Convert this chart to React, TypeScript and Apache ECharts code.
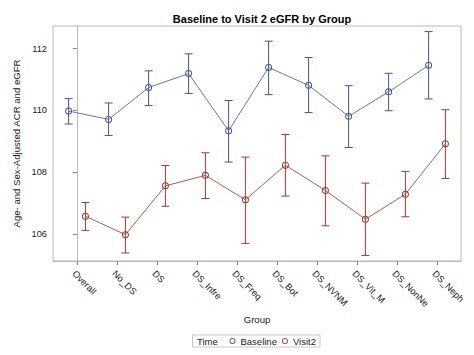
import React, { useEffect, useRef } from "react";
import * as echarts from "echarts";

const categories = ["Overall", "No_DS", "DS", "DS_Infre", "DS_Freq", "DS_Bot", "DS_NVNM", "DS_Vit_M", "DS_NonNe", "DS_Neph"];
const baselineMean = [109.98, 109.71, 110.74, 111.19, 109.34, 111.39, 110.81, 109.81, 110.6, 111.46];
const baselineLower = [109.56, 109.19, 110.16, 110.55, 108.33, 110.51, 109.93, 108.8, 109.99, 110.37];
const baselineUpper = [110.38, 110.24, 111.28, 111.83, 110.32, 112.24, 111.71, 110.8, 111.2, 112.55];
const visit2Mean = [106.58, 105.98, 107.56, 107.9, 107.11, 108.23, 107.41, 106.48, 107.29, 108.92];
const visit2Lower = [106.12, 105.39, 106.9, 107.15, 105.7, 107.23, 106.27, 105.31, 106.56, 107.8];
const visit2Upper = [107.02, 106.55, 108.22, 108.63, 108.49, 109.22, 108.53, 107.65, 108.03, 110.02];
const yTicks = [106, 108, 110, 112];
const seriesNames = ["Baseline", "Visit2"];

const FONT = "Liberation Sans, Arial, sans-serif";
const BLUE = "#445694";
const BLUE_LINE = "#6676b0";
const RED = "#A23A2E";
const RED_LINE = "#b85a50";
const DODGE = 0.21;
const RING = "path://M5,0A5,5 0 1 1 5,10A5,5 0 1 1 5,0ZM5,1.4A3.6,3.6 0 1 0 5,8.6A3.6,3.6 0 1 0 5,1.4Z";

function errorSeries(name: string, lower: number[], upper: number[], shift: number, color: string) {
  return {
    name,
    type: "custom",
    silent: true,
    z: 3,
    data: lower.map((lo, i) => [i + shift, lo, upper[i]]),
    renderItem: (params: any, api: any) => {
      const x = api.value(0);
      const lo = api.coord([x, api.value(1)]);
      const hi = api.coord([x, api.value(2)]);
      const cap = 4;
      const style = { stroke: color, lineWidth: 1 };
      return {
        type: "group",
        children: [
          { type: "line", shape: { x1: lo[0], y1: lo[1], x2: hi[0], y2: hi[1] }, style },
          { type: "line", shape: { x1: lo[0] - cap, y1: lo[1], x2: lo[0] + cap, y2: lo[1] }, style },
          { type: "line", shape: { x1: hi[0] - cap, y1: hi[1], x2: hi[0] + cap, y2: hi[1] }, style },
        ],
      };
    },
  };
}

export default function App() {
  const ref = useRef<HTMLDivElement>(null);
  useEffect(() => {
    if (!ref.current) return;
    const chart = echarts.init(ref.current, undefined, { renderer: "svg" });
    const tickIdx = categories.map((_, i) => i);
    chart.setOption({
      animation: false,
      backgroundColor: "#ffffff",
      textStyle: { fontFamily: FONT },
      title: {
        text: "Baseline to Visit 2 eGFR by Group",
        left: 257,
        top: 8,
        textAlign: "center",
        textStyle: { fontFamily: FONT, fontSize: 11, fontWeight: "bold", color: "#000" },
      },
      grid: { left: 53, right: 13, top: 26, bottom: 94, show: true, borderColor: "#b8b8b8", borderWidth: 1 },
      legend: {
        data: seriesNames.map((n, i) => ({ name: n, icon: RING, itemStyle: { color: i === 0 ? BLUE : RED, borderWidth: 0 } })),
        left: 192.5,
        top: 335,
        orient: "horizontal",
        itemWidth: 6,
        itemHeight: 6,
        itemGap: 5,
        padding: [1, 4, 1, 37],
        borderColor: "#c8c8c8",
        borderWidth: 1,
        textStyle: { fontFamily: FONT, fontSize: 9.5, color: "#222" },
      },
      graphic: [
        {
          type: "text",
          left: 197,
          top: 336,
          style: { text: "Time", fontFamily: FONT, fontSize: 9.5, fill: "#222" },
        },
      ],
      xAxis: {
        type: "value",
        min: -0.6,
        max: 9.6,
        name: "Group",
        nameLocation: "middle",
        nameGap: 53,
        nameMoveOverlap: false,
        nameTextStyle: { fontFamily: FONT, fontSize: 9.6, color: "#222", verticalAlign: "top" },
        splitLine: { show: false },
        axisLine: { show: true, lineStyle: { color: "#b8b8b8" } },
        axisTick: { show: true, customValues: tickIdx, length: 4, lineStyle: { color: "#8c8c8c" } },
        axisLabel: {
          customValues: tickIdx,
          rotate: -45,
          margin: 8,
          verticalAlign: "top",
          align: "left",
          fontFamily: FONT,
          fontSize: 9.3,
          color: "#222",
          formatter: (v: number) => categories[Math.round(v)] ?? "",
        },
      },
      yAxis: {
        type: "value",
        min: 105.13,
        max: 112.73,
        name: "Age- and Sex-Adjusted ACR and eGFR",
        nameLocation: "middle",
        nameGap: 32,
        nameMoveOverlap: false,
        nameTextStyle: { fontFamily: FONT, fontSize: 9.6, color: "#222" },
        splitLine: { show: false },
        axisLine: { show: true, lineStyle: { color: "#b8b8b8" } },
        axisTick: { show: true, customValues: yTicks, length: 4, lineStyle: { color: "#8c8c8c" } },
        axisLabel: { customValues: yTicks, margin: 6, fontFamily: FONT, fontSize: 9.3, color: "#222" },
      },
      series: [
        errorSeries("Baseline", baselineLower, baselineUpper, -DODGE, BLUE),
        errorSeries("Visit2", visit2Lower, visit2Upper, DODGE, RED),
        {
          name: "Baseline",
          type: "line",
          z: 4,
          data: baselineMean.map((v, i) => [i - DODGE, v]),
          symbol: RING,
          symbolSize: 7,
          showSymbol: true,
          lineStyle: { color: BLUE_LINE, width: 1 },
          itemStyle: { color: BLUE, borderWidth: 0 },
        },
        {
          name: "Visit2",
          type: "line",
          z: 4,
          data: visit2Mean.map((v, i) => [i + DODGE, v]),
          symbol: RING,
          symbolSize: 7,
          showSymbol: true,
          lineStyle: { color: RED_LINE, width: 1 },
          itemStyle: { color: RED, borderWidth: 0 },
        },
      ],
    });
    return () => chart.dispose();
  }, []);
  return <div ref={ref} style={{ width: 474, height: 355, position: "absolute", left: 0, top: 0 }} />;
}
